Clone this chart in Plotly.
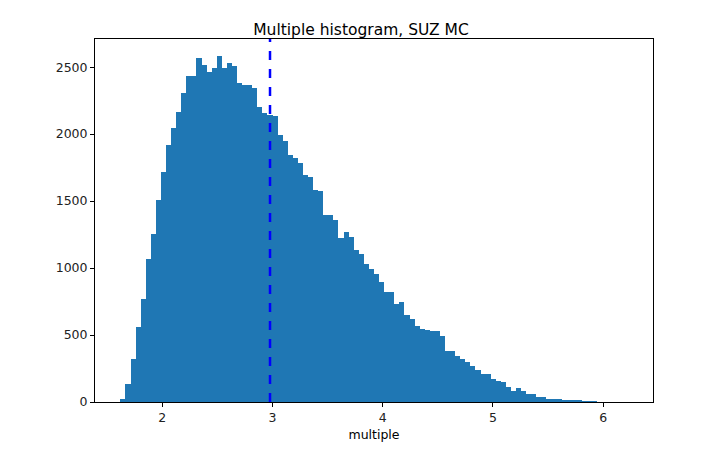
import plotly.graph_objects as go

bin_start = 1.621
bin_width = 0.046
counts = [20, 135, 320, 560, 770, 1070, 1257, 1507, 1719, 1919,
          2043, 2168, 2305, 2435, 2435, 2570, 2517, 2460, 2495, 2580,
          2495, 2530, 2510, 2380, 2370, 2370, 2345, 2205, 2158, 2145,
          2133, 1996, 1946, 1846, 1821, 1784, 1697, 1682, 1584, 1572,
          1397, 1397, 1360, 1222, 1267, 1232, 1133, 1108, 1033, 995,
          958, 896, 821, 821, 733, 746, 646, 621, 571, 546,
          534, 528, 528, 496, 384, 384, 346, 322, 297, 272,
          242, 210, 210, 172, 160, 147, 110, 85, 105, 85,
          60, 60, 35, 35, 22, 22, 22, 10, 10, 10,
          10, 2, 1, 1, 0, 0, 0, 0, 0, 0]
median_line = 2.978
x_ticks = [2, 3, 4, 5, 6]
y_ticks = [0, 500, 1000, 1500, 2000, 2500]

centers = [bin_start + (i + 0.5) * bin_width for i in range(len(counts))]
x_min = bin_start
x_max = bin_start + len(counts) * bin_width
pad = 0.05 * (x_max - x_min)

fig = go.Figure()
fig.add_trace(go.Bar(x=centers, y=counts, width=bin_width,
                     marker=dict(color="#1f77b4", line=dict(width=0))))
fig.add_shape(type="line", x0=median_line, x1=median_line, y0=0, y1=1,
              xref="x", yref="paper", line=dict(color="blue", width=2.5, dash="dash"))

axis_common = dict(showgrid=False, zeroline=False, showline=True, linecolor="black",
                   linewidth=1, mirror=True, ticks="outside", ticklen=4,
                   tickcolor="black", tickfont=dict(size=12.5, color="#222"))
fig.update_layout(
    width=706, height=469,
    margin=dict(l=87, r=61, t=31, b=75),
    plot_bgcolor="white", paper_bgcolor="white",
    font=dict(family="DejaVu Sans", color="black"),
    title=dict(text="Multiple histogram, SUZ MC", x=0.5, xanchor="center",
               y=0.955, yanchor="middle", font=dict(size=15.5)),
    bargap=0, showlegend=False,
    xaxis=dict(range=[x_min - pad, x_max + pad], tickvals=x_ticks,
               title=dict(text="multiple", font=dict(size=12.5), standoff=6), **axis_common),
    yaxis=dict(range=[0, 2710], tickvals=y_ticks, **axis_common),
)
fig.write_html("out.html")
